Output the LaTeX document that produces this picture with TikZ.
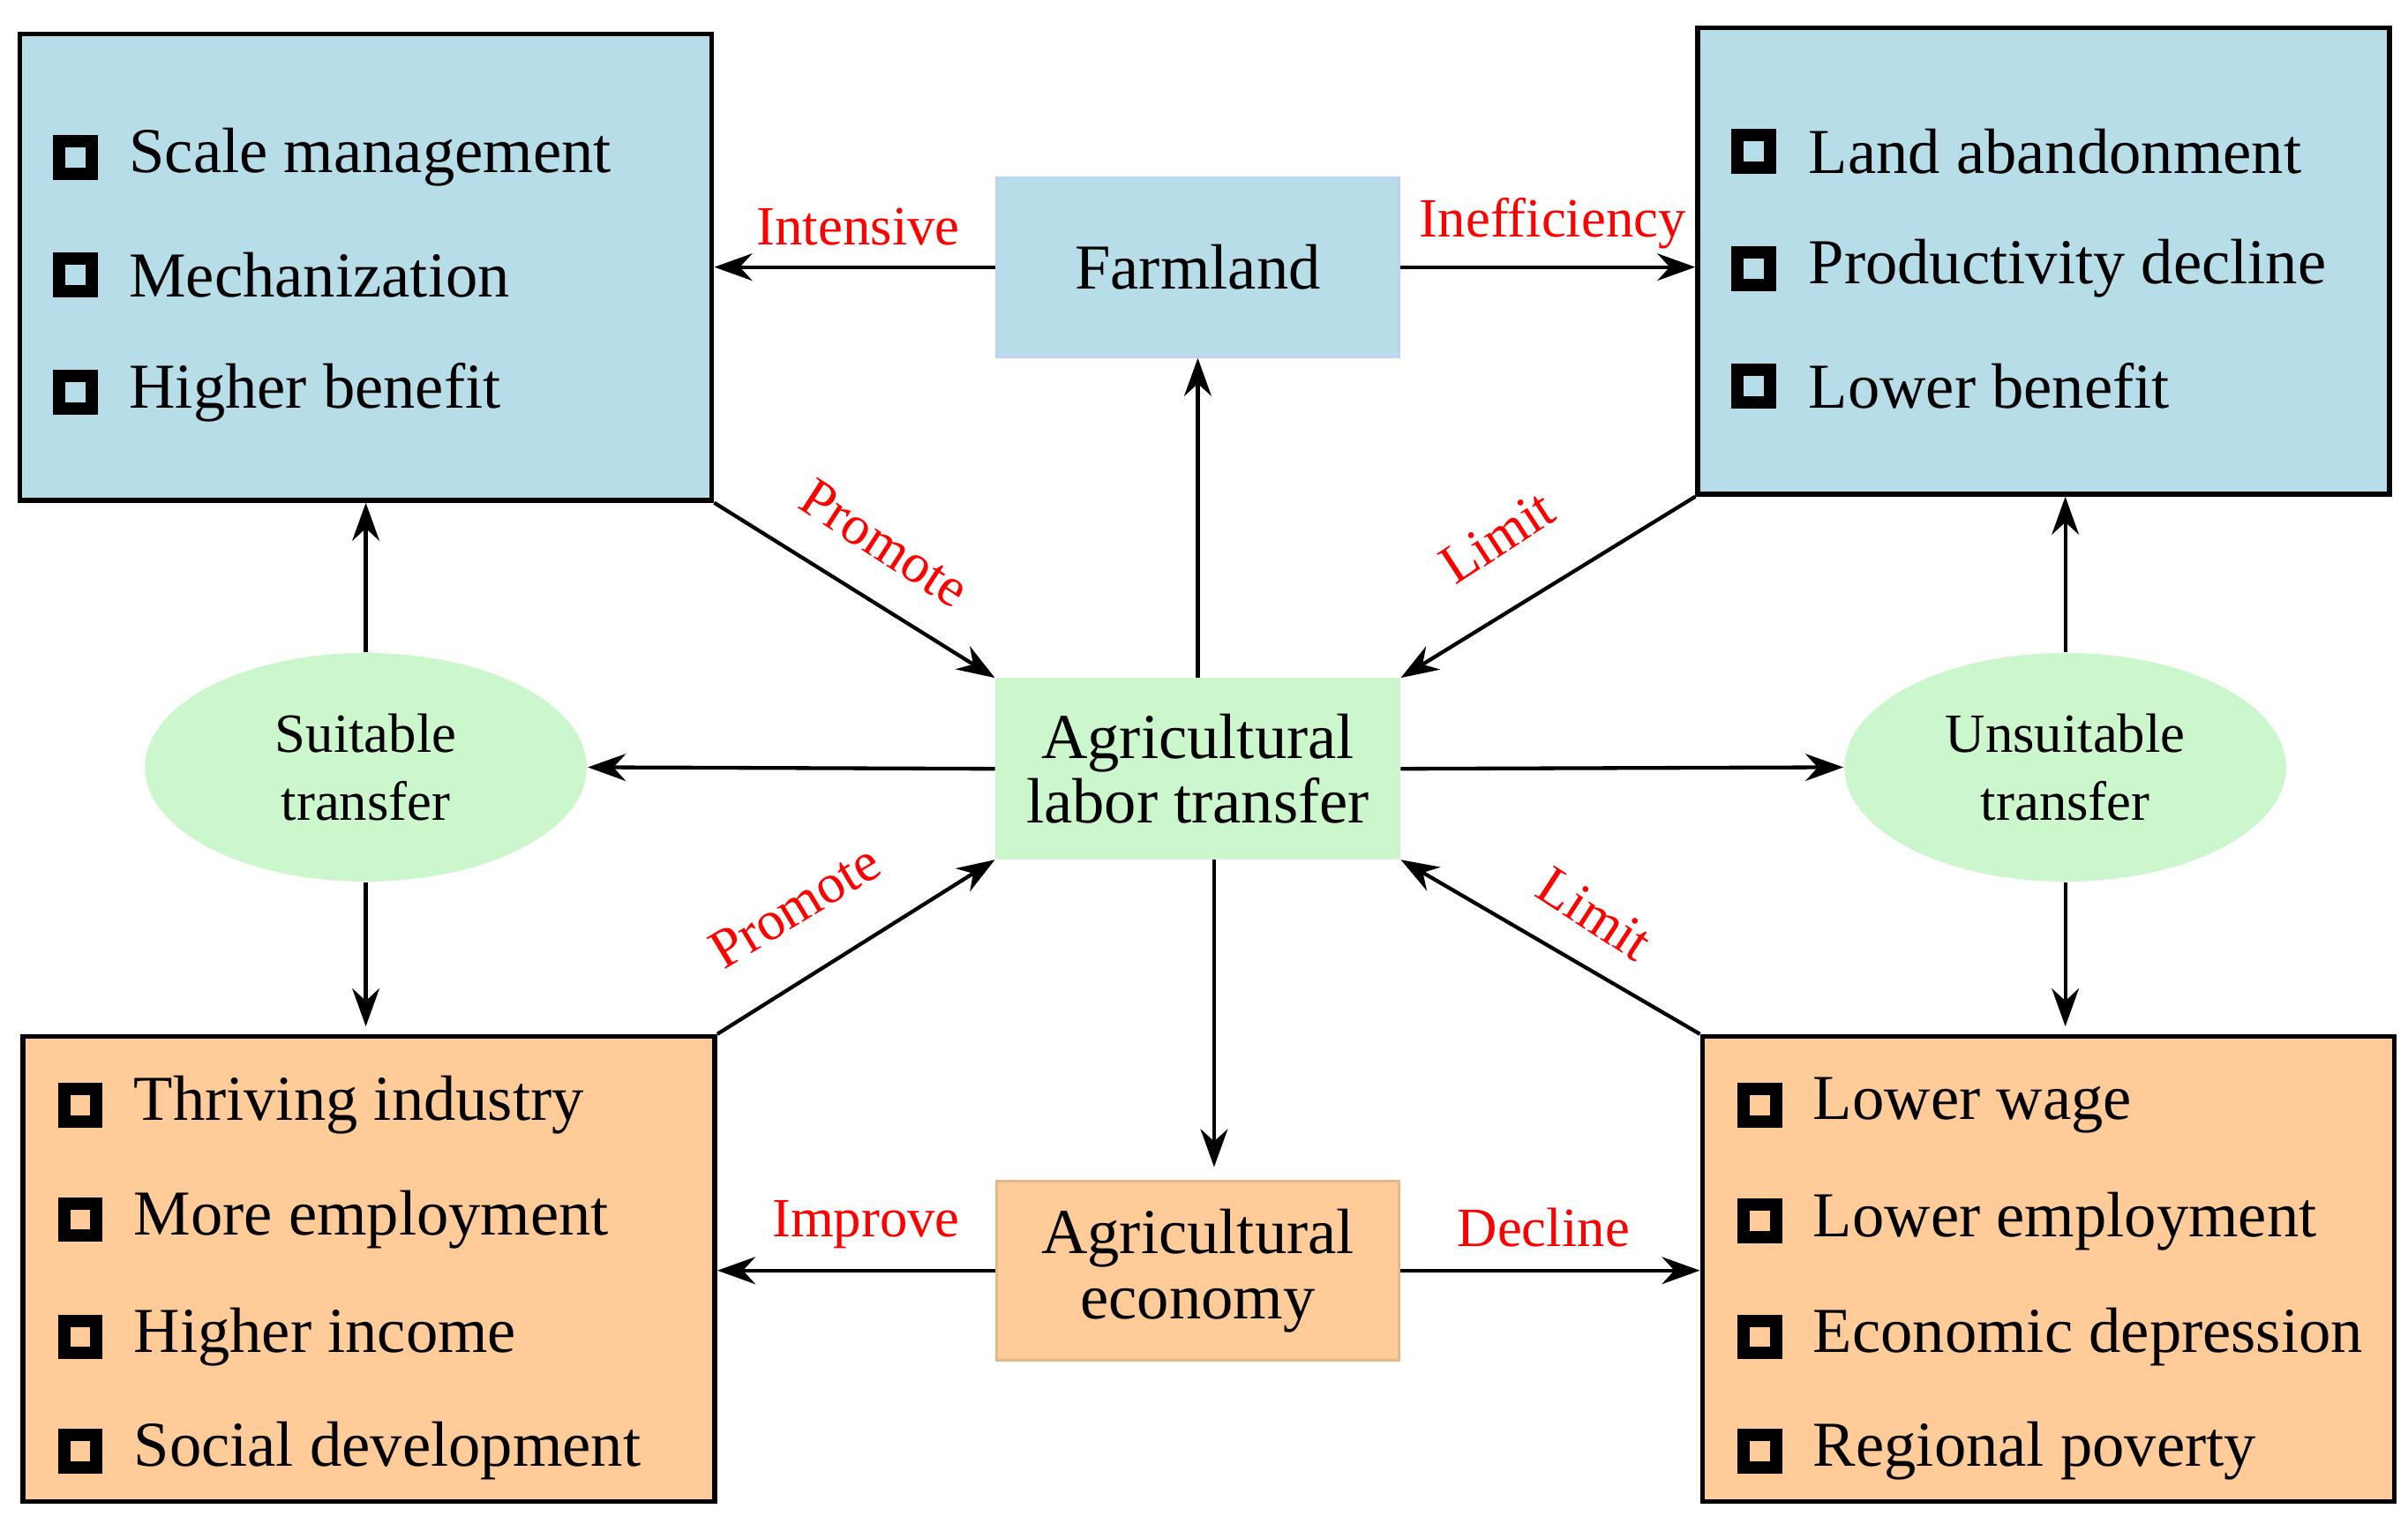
\documentclass[tikz,border=0pt]{standalone}
\usepackage{fontspec}
\setmainfont{Liberation Serif}
\usetikzlibrary{arrows.meta,shapes.geometric}
\definecolor{bbox}{HTML}{B7DDE8}
\definecolor{obox}{HTML}{FFCC99}
\definecolor{gbox}{HTML}{CCF7CC}
\tikzset{
 big/.style={draw=black,line width=0.9pt},
 arr/.style={-{Stealth[length=7pt,width=5pt]},line width=0.7pt},
 lab/.style={text=red,font=\fontsize{10.2}{12}\selectfont},
 item/.style={anchor=west,font=\fontsize{11.8}{14}\selectfont,inner sep=0pt},
 sq/.style={draw=black,line width=2.3pt,minimum size=0.21cm,inner sep=0pt},
 mid/.style={font=\fontsize{11.8}{14}\selectfont,align=center,line width=0.5pt,minimum width=2.61cm,minimum height=1.16cm,inner sep=0pt},
 ell/.style={ellipse,fill=gbox,minimum width=2.86cm,minimum height=1.48cm,font=\fontsize{10.2}{12.5}\selectfont,align=center,inner sep=0pt}
}
\begin{document}
\begin{tikzpicture}[x=0.01cm,y=-0.01cm]
\useasboundingbox (0,0) rectangle (1560,987);
\fill[white] (0,0) rectangle (1560,987);
% big boxes
\node[big,fill=bbox,minimum width=4.48cm,minimum height=3.02cm,inner sep=0pt] (tl) at (237,173) {};
\node[big,fill=bbox,minimum width=4.48cm,minimum height=3.02cm,inner sep=0pt] (tr) at (1324,169) {};
\node[big,fill=obox,minimum width=4.48cm,minimum height=3.01cm,inner sep=0pt] (bl) at (239,822) {};
\node[big,fill=obox,minimum width=4.48cm,minimum height=3.01cm,inner sep=0pt] (br) at (1327,822) {};
% middle nodes
\node[mid,fill=bbox,draw=bbox!80!blue!60] (farm) at (776,173) {Farmland};
\node[mid,fill=gbox,draw=gbox] (alt) at (776,498) {Agricultural\\[-2pt]labor transfer};
\node[mid,fill=obox,draw=obox!90!black] (eco) at (776,823) {Agricultural\\[-2pt]economy};
\node[ell] (suit) at (237,497) {Suitable\\transfer};
\node[ell] (unsuit) at (1338,497) {Unsuitable\\transfer};
% list items
\foreach \y/\t [count=\i] in {102/Scale management,178/Mechanization,254/Higher benefit}{
 \node[sq] (tls\i) at (49,\y) {}; \node[item] (tlt\i) at (83,\y) {\t};}
\foreach \y/\t [count=\i] in {98/Land abandonment,174/Productivity decline,250/Lower benefit}{
 \node[sq] (trs\i) at (1136,\y) {}; \node[item] (trt\i) at (1171,\y) {\t};}
\foreach \y/\t [count=\i] in {716/Thriving industry,790/More employment,866/Higher income,940/Social development}{
 \node[sq] (bls\i) at (52,\y) {}; \node[item] (blt\i) at (86,\y) {\t};}
\foreach \y/\t [count=\i] in {716/Lower wage,791/Lower employment,866/Economic depression,940/Regional poverty}{
 \node[sq] (brs\i) at (1140,\y) {}; \node[item] (brt\i) at (1174,\y) {\t};}
% arrows
\draw[arr] (farm.west) -- (tl.east|-farm.west);
\draw[arr] (farm.east) -- (tr.west|-farm.east);
\draw[arr] (alt.north) -- (farm.south);
\draw[arr] (tl.south east) -- (alt.north west);
\draw[arr] (tr.south west) -- (alt.north east);
\draw[arr] (alt.west) -- (suit.east);
\draw[arr] (alt.east) -- (unsuit.west);
\draw[arr] (suit.north) -- (tl.south-|suit.north);
\draw[arr] (suit.south) -- ([yshift=1.4pt]bl.north-|suit.south);
\draw[arr] (unsuit.north) -- (tr.south-|unsuit.north);
\draw[arr] (unsuit.south) -- ([yshift=1.4pt]br.north-|unsuit.south);
\draw[arr] (bl.north east) -- (alt.south west);
\draw[arr] (br.north west) -- (alt.south east);
\draw[arr] ([xshift=3]alt.south) -- ([xshift=3,yshift=2.3pt]eco.north);
\draw[arr] (eco.west) -- (bl.east|-eco.west);
\draw[arr] (eco.east) -- (br.west|-eco.east);
% labels
\node[lab] (l1) at (556,147) {Intensive};
\node[lab] (l2) at (1006,145) {Inefficiency};
\node[lab,rotate=-33] (l3) at (573,352) {Promote};
\node[lab,rotate=33] (l4) at (970,348) {Limit};
\node[lab,rotate=31] (l5) at (515,587) {Promote};
\node[lab,rotate=-33] (l6) at (1033,592) {Limit};
\node[lab] (l7) at (561,793) {Improve};
\node[lab] (l8) at (1000,795) {Decline};
\end{tikzpicture}
\end{document}
